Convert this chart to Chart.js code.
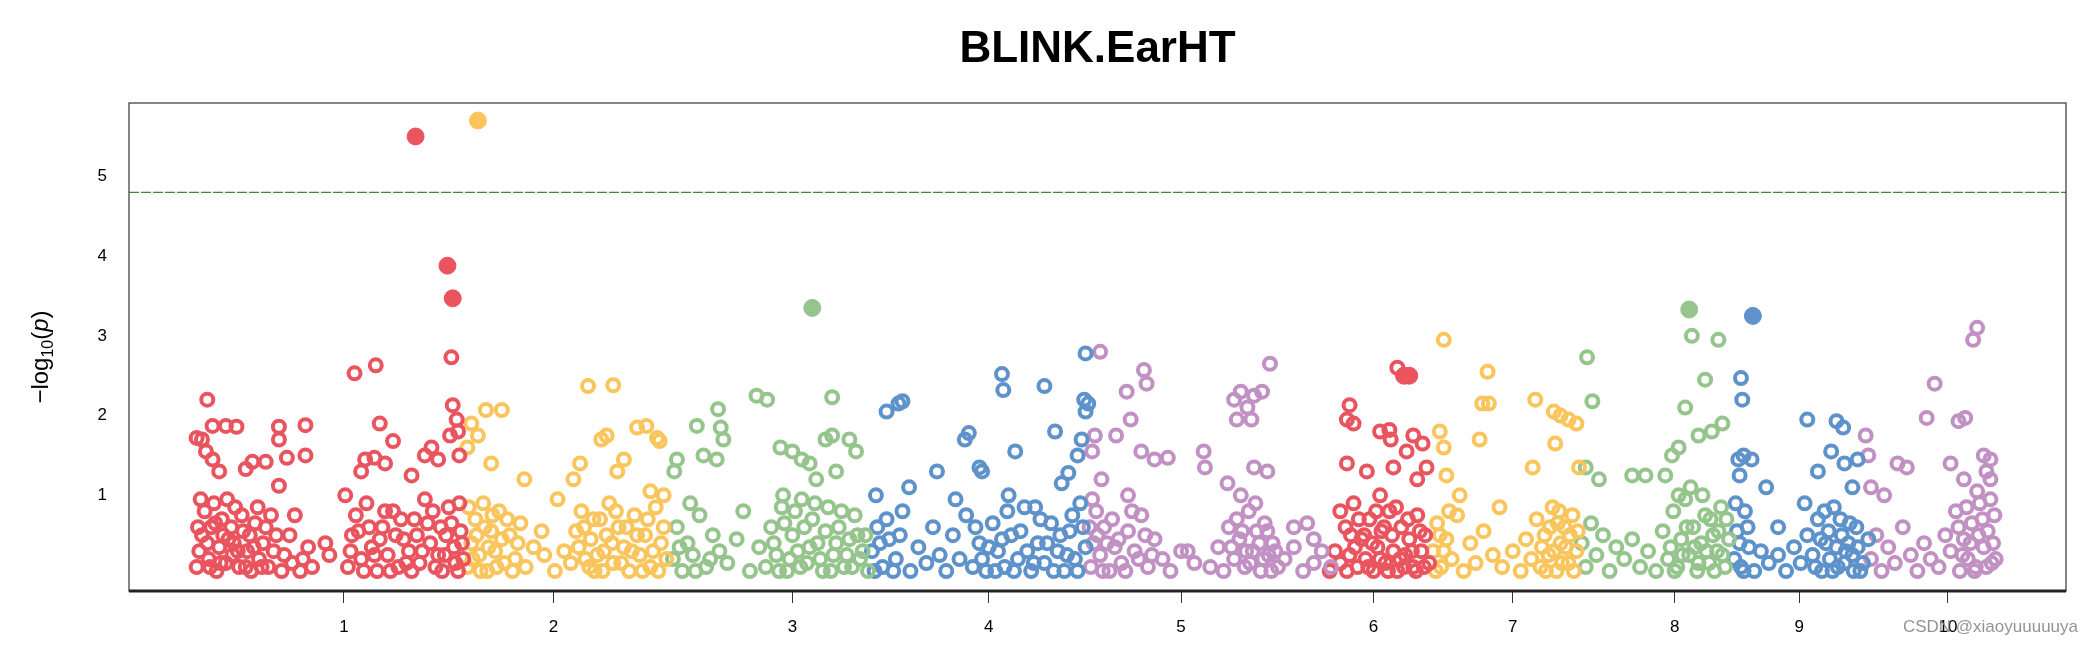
<!DOCTYPE html>
<html><head><meta charset="utf-8">
<script src="https://cdn.jsdelivr.net/npm/chart.js@4/dist/chart.umd.min.js"></script>
<style>html,body{margin:0;padding:0;background:#fff}</style>
</head><body>
<canvas id="c" width="2080" height="647"></canvas>
<script>
const chartTitle = "BLINK.EarHT";
const threshold = 4.8;
const chrLabels = ["1","2","3","4","5","6","7","8","9","10"];
const chrTickPos = [259,417,597,745,890,1035,1140,1262,1356,1468];
const chrColors = ["#E9545E","#F9C55C","#95C58C","#5E92CA","#C291C4","#E9545E","#F9C55C","#95C58C","#5E92CA","#C291C4"];

const chr1 = [[152,1.7],[148,1.72],[160,1.87],[170,1.87],[178,1.86],[210,1.86],[230,1.88],[210,1.7],[216,1.47],[200,1.42],[190,1.42],[155,1.55],[160,1.45],[165,1.3],[185,1.33],[210,1.12],[230,1.5],[260,1.0],[272,1.3],[275,1.45],[282,1.47],[290,1.4],[286,1.9],[296,1.68],[310,1.25],[320,1.5],[325,1.6],[330,1.45],[339,1.75],[344,1.95],[345,1.8],[346,1.5],[267,2.53],[283,2.63],[156,2.2],[341,2.13],[340,2.73],
[148,0.1],[150,0.3],[152,0.5],[154,0.8],[157,0.2],[159,0.6],[161,0.9],[163,0.05],[165,0.35],[167,0.7],[170,0.15],[172,0.45],[175,0.25],[177,0.85],[180,0.1],[183,0.55],[186,0.3],[189,0.05],[192,0.65],[195,0.2],[198,0.4],[202,0.1],[206,0.3],[212,0.05],[218,0.5],[222,0.75],[228,0.2],[235,0.1],[245,0.4],[248,0.25],[262,0.1],[265,0.5],[268,0.75],[272,0.2],[276,0.9],[280,0.35],[284,0.05],[288,0.6],[292,0.25],[296,0.8],[300,0.1],[304,0.45],[308,0.3],[312,0.7],[316,0.15],[320,0.95],[324,0.4],[328,0.1],[332,0.6],[335,0.25],[338,0.85],[342,0.35],[345,0.05],[347,0.55],[349,0.2],
[149,0.6],[151,0.95],[156,0.4],[158,0.1],[162,0.65],[166,0.15],[168,0.5],[171,0.95],[174,0.6],[176,0.4],[179,0.3],[182,0.75],[185,0.1],[188,0.5],[191,0.35],[194,0.85],[197,0.1],[200,0.6],[204,0.75],[208,0.5],[214,0.25],[220,0.15],[226,0.05],[232,0.35],[264,0.3],[270,0.55],[274,0.05],[278,0.6],[282,0.25],[286,0.45],[290,0.8],[294,0.05],[298,0.5],[302,0.7],[306,0.15],[310,0.05],[314,0.5],[318,0.3],[322,0.65],[326,0.8],[330,0.25],[333,0.05],[336,0.5],[340,0.65],[343,0.15],[346,0.9],[348,0.4]];
const chr2 = [[366,2.07],[378,2.07],[443,2.37],[462,2.38],[355,1.9],[360,1.75],[352,1.6],[370,1.4],[395,1.2],[432,1.2],[437,1.4],[453,1.7],[457,1.75],[480,1.85],[487,1.87],[495,1.72],[497,1.68],[470,1.45],[465,1.3],[420,0.95],[408,0.55],[500,1.0],[490,1.05],
[352,0.1],[355,0.4],[358,0.7],[361,0.25],[364,0.9],[367,0.05],[370,0.55],[373,0.3],[376,0.8],[380,0.15],[384,0.5],[388,0.2],[392,0.65],[396,0.1],[402,0.35],[410,0.25],[418,0.05],[425,0.3],[430,0.15],[434,0.55],[438,0.8],[441,0.2],[445,0.45],[448,0.05],[452,0.7],[455,0.3],[459,0.9],[462,0.15],[466,0.6],[470,0.35],[474,0.05],[478,0.75],[482,0.25],[486,0.5],[490,0.1],[494,0.85],[498,0.4],[502,0.2],
[353,0.85],[356,0.2],[359,0.5],[362,0.05],[365,0.6],[368,0.35],[371,0.75],[374,0.1],[378,0.45],[382,0.7],[386,0.05],[390,0.4],[436,0.35],[440,0.6],[444,0.1],[447,0.7],[450,0.25],[454,0.05],[457,0.5],[461,0.4],[464,0.8],[468,0.15],[472,0.6],[476,0.3],[480,0.5],[484,0.05],[488,0.7],[492,0.3],[496,0.05],[500,0.6]];
const chr3 = [[570,2.25],[578,2.2],[627,2.23],[541,2.08],[543,1.85],[525,1.87],[545,1.7],[540,1.45],[530,1.5],[510,1.45],[508,1.3],[588,1.6],[597,1.55],[604,1.45],[610,1.4],[622,1.7],[627,1.75],[640,1.7],[645,1.55],[630,1.3],[615,1.2],[590,1.0],[560,0.8],[520,0.9],
[507,0.2],[510,0.6],[514,0.05],[518,0.4],[522,0.25],[527,0.75],[532,0.1],[537,0.5],[542,0.3],[548,0.15],[555,0.45],[565,0.05],[572,0.35],[577,0.1],[581,0.6],[585,0.25],[589,0.85],[593,0.05],[597,0.5],[601,0.3],[604,0.95],[608,0.15],[612,0.7],[616,0.4],[620,0.05],[624,0.85],[628,0.25],[632,0.6],[636,0.1],[640,0.45],[644,0.75],[648,0.2],[652,0.5],[654,0.05],
[583,0.4],[587,0.05],[591,0.65],[595,0.2],[599,0.8],[603,0.1],[606,0.6],[610,0.35],[614,0.9],[618,0.2],[622,0.55],[626,0.05],[630,0.4],[634,0.8],[638,0.25],[642,0.1],[646,0.5],[650,0.3],[512,0.35],[524,0.05],[535,0.2]];
const chr4 = [[668,2.05],[677,2.15],[680,2.18],[755,2.52],[756,2.32],[787,2.37],[818,2.78],[817,2.2],[820,2.15],[818,2.05],[727,1.7],[730,1.78],[706,1.3],[738,1.35],[740,1.3],[765,1.55],[795,1.8],[805,1.28],[812,1.5],[815,1.7],[660,1.0],[685,1.1],[720,0.95],[760,1.0],[780,0.85],[800,1.15],
[657,0.3],[661,0.6],[665,0.1],[670,0.45],[675,0.2],[680,0.8],[686,0.05],[692,0.35],[698,0.15],[703,0.6],[708,0.25],[713,0.05],[718,0.5],[723,0.2],[728,0.75],[733,0.1],[738,0.4],[743,0.05],[748,0.65],[752,0.3],[757,0.1],[762,0.5],[767,0.2],[772,0.85],[777,0.05],[782,0.4],[787,0.15],[792,0.65],[797,0.3],[802,0.05],[806,0.55],[810,0.2],[814,0.9],[818,0.35],
[659,0.05],[663,0.4],[668,0.7],[673,0.05],[678,0.5],[735,0.6],[740,0.2],[745,0.35],[750,0.05],[755,0.45],[759,0.8],[764,0.05],[769,0.55],[774,0.3],[779,0.15],[784,0.7],[789,0.4],[794,0.05],[799,0.5],[804,0.25],[808,0.75],[812,0.05],[816,0.6]];
const chr5 = [[829,2.8],[849,2.3],[862,2.57],[864,2.4],[957,2.65],[935,2.3],[945,2.25],[951,2.3],[930,2.2],[940,2.1],[943,1.95],[932,1.95],[852,1.95],[823,1.55],[825,1.75],[841,1.75],[860,1.55],[870,1.45],[880,1.47],[907,1.55],[908,1.35],[925,1.15],[945,1.35],[955,1.3],[935,1.0],[830,1.2],[850,1.0],[895,0.3],[975,0.6],[985,0.65],[990,0.45],
[822,0.1],[824,0.4],[826,0.8],[829,0.25],[832,0.6],[836,0.05],[840,0.35],[845,0.15],[850,0.55],[855,0.3],[860,0.75],[865,0.1],[870,0.45],[876,0.2],[882,0.05],[890,0.3],[900,0.15],[912,0.1],[918,0.35],[922,0.05],[926,0.6],[930,0.2],[934,0.45],[938,0.1],[941,0.8],[944,0.3],[947,0.55],[950,0.05],[953,0.65],[956,0.25],[959,0.4],[963,0.1],[968,0.2],[975,0.35],[982,0.05],[990,0.15],[996,0.3],[1003,0.1],
[821,0.6],[823,0.95],[827,0.5],[831,0.05],[834,0.4],[838,0.7],[843,0.45],[848,0.05],[853,0.8],[858,0.2],[863,0.5],[868,0.25],[928,0.35],[932,0.7],[936,0.55],[939,0.3],[942,0.15],[946,0.9],[949,0.4],[952,0.2],[955,0.55],[958,0.05],[961,0.3]];
const chr6 = [[1053,2.6],[1017,2.13],[1015,1.95],[1020,1.9],[1040,1.8],[1047,1.82],[1048,1.7],[1065,1.75],[1072,1.65],[1060,1.55],[1015,1.4],[1030,1.3],[1050,1.35],[1068,1.2],[1075,1.35],[1010,0.8],[1040,1.0],
[1002,0.05],[1006,0.3],[1010,0.15],[1014,0.6],[1017,0.25],[1020,0.9],[1023,0.1],[1026,0.45],[1029,0.2],[1032,0.7],[1035,0.05],[1038,0.35],[1041,0.55],[1044,0.15],[1047,0.8],[1050,0.3],[1053,0.05],[1056,0.6],[1059,0.25],[1062,0.45],[1065,0.1],[1068,0.75],[1071,0.3],[1074,0.5],[1077,0.15],
[1015,0.05],[1018,0.5],[1021,0.35],[1024,0.7],[1028,0.5],[1031,0.1],[1034,0.4],[1037,0.8],[1040,0.2],[1043,0.6],[1046,0.05],[1049,0.5],[1052,0.85],[1055,0.2],[1058,0.1],[1061,0.7],[1064,0.3],[1067,0.05],[1070,0.55],[1073,0.1]];
const chr7 = [[1088,2.95],[1121,2.55],[1117,2.15],[1122,2.15],[1157,2.2],[1171,2.05],[1176,2.0],[1182,1.95],[1188,1.9],[1085,1.8],[1088,1.6],[1090,1.25],[1115,1.7],[1155,1.35],[1190,1.35],[1172,1.65],[1100,1.0],[1130,0.85],[1175,0.8],
[1080,0.3],[1083,0.65],[1086,0.1],[1090,0.45],[1094,0.2],[1098,0.75],[1103,0.05],[1108,0.4],[1112,0.15],[1118,0.55],[1125,0.25],[1132,0.1],[1140,0.3],[1146,0.05],[1150,0.45],[1154,0.2],[1158,0.7],[1161,0.1],[1164,0.5],[1167,0.25],[1170,0.85],[1173,0.05],[1176,0.4],[1179,0.6],[1182,0.15],[1185,0.75],[1188,0.3],
[1082,0.05],[1085,0.5],[1088,0.3],[1092,0.8],[1162,0.35],[1165,0.05],[1168,0.6],[1171,0.3],[1174,0.65],[1177,0.15],[1180,0.35],[1183,0.5],[1186,0.05],[1189,0.55]];
const chr8 = [[1196,2.73],[1275,3.0],[1295,2.95],[1200,2.18],[1270,2.1],[1285,2.45],[1298,1.9],[1290,1.8],[1280,1.75],[1265,1.6],[1260,1.5],[1230,1.25],[1240,1.25],[1205,1.2],[1195,1.35],[1255,1.25],
[1192,0.4],[1195,0.1],[1199,0.65],[1203,0.25],[1208,0.5],[1213,0.05],[1218,0.35],[1224,0.2],[1230,0.45],[1236,0.1],[1242,0.3],[1248,0.05],[1253,0.55],[1257,0.2],[1261,0.8],[1264,0.1],[1267,0.45],[1270,0.95],[1273,0.25],[1276,0.6],[1279,0.05],[1282,0.4],[1285,0.75],[1288,0.15],[1291,0.5],[1294,0.3],[1297,0.85],[1300,0.1],[1303,0.45],
[1259,0.35],[1262,0.05],[1265,1.0],[1268,0.25],[1271,0.6],[1274,1.1],[1277,0.35],[1280,0.15],[1283,1.0],[1286,0.3],[1289,0.7],[1292,0.05],[1295,0.55],[1298,0.25],[1301,0.7]];
const chr9 = [[1312,2.47],[1313,2.2],[1314,1.5],[1310,1.45],[1320,1.45],[1331,1.1],[1311,1.25],[1362,1.95],[1384,1.93],[1389,1.85],[1380,1.55],[1390,1.4],[1400,1.45],[1370,1.3],[1396,1.1],[1360,0.9],[1340,0.6],
[1307,0.2],[1309,0.55],[1312,0.1],[1315,0.8],[1318,0.35],[1322,0.05],[1327,0.3],[1333,0.15],[1340,0.25],[1346,0.05],[1352,0.35],[1357,0.15],[1362,0.5],[1366,0.25],[1370,0.7],[1373,0.05],[1376,0.4],[1379,0.2],[1382,0.85],[1385,0.1],[1388,0.5],[1391,0.3],[1394,0.65],[1397,0.05],[1400,0.35],[1404,0.15],[1408,0.45],
[1308,0.9],[1311,0.4],[1314,0.05],[1317,0.6],[1368,0.1],[1372,0.45],[1375,0.8],[1378,0.55],[1381,0.05],[1384,0.35],[1387,0.7],[1390,0.15],[1393,0.4],[1396,0.25],[1399,0.6],[1402,0.05]];
const chr10 = [[1490,3.1],[1487,2.95],[1458,2.4],[1452,1.97],[1476,1.93],[1481,1.97],[1406,1.75],[1408,1.5],[1430,1.4],[1437,1.35],[1470,1.4],[1495,1.5],[1500,1.45],[1497,1.3],[1500,1.2],[1410,1.1],[1420,1.0],[1480,1.2],[1490,1.05],
[1410,0.2],[1414,0.5],[1418,0.05],[1423,0.35],[1428,0.15],[1434,0.6],[1440,0.25],[1445,0.05],[1450,0.4],[1455,0.2],[1461,0.1],[1466,0.5],[1470,0.3],[1474,0.8],[1477,0.05],[1480,0.45],[1483,0.2],[1486,0.65],[1489,0.1],[1492,0.9],[1495,0.35],[1498,0.55],[1501,0.15],[1503,0.75],
[1476,0.6],[1479,0.25],[1482,0.85],[1485,0.4],[1488,0.05],[1491,0.5],[1494,0.7],[1497,0.1],[1500,0.95],[1502,0.4],[1504,0.2]];
// highlighted (filled) markers: [chromosome index, position, value]
const sigPoints = [[0,313,5.5],[0,337,3.88],[0,341,3.47],[1,360,5.7],[2,612,3.35],[5,1058,2.5],[5,1062,2.5],[7,1273,3.33],[8,1321,3.25]];

const allChr = [chr1,chr2,chr3,chr4,chr5,chr6,chr7,chr8,chr9,chr10];
const datasets = allChr.map((arr,i)=>({
  data: arr.map(p=>({x:p[0],y:p[1]})),
  borderColor: chrColors[i], backgroundColor:'rgba(0,0,0,0)',
  pointRadius:6, borderWidth:4, pointBorderWidth:4
}));
datasets.push({
  data: sigPoints.map(p=>({x:p[1],y:p[2]})),
  borderColor: sigPoints.map(p=>chrColors[p[0]]),
  backgroundColor: sigPoints.map(p=>chrColors[p[0]]),
  pointRadius:8.5, pointBorderWidth:1
});

const deco = {
  id:'deco',
  beforeDatasetsDraw(ch){
    const {ctx,chartArea:a,scales:{y}} = ch;
    const yy = y.getPixelForValue(threshold);
    ctx.save(); ctx.strokeStyle='#3a8a3a'; ctx.lineWidth=1.3; ctx.setLineDash([10,2]);
    ctx.beginPath(); ctx.moveTo(a.left,yy); ctx.lineTo(a.right,yy); ctx.stroke(); ctx.restore();
  },
  afterDraw(ch){
    const {ctx,chartArea:a} = ch;
    ctx.save();
    ctx.strokeStyle='#444'; ctx.lineWidth=1.3;
    ctx.strokeRect(a.left,a.top,a.right-a.left,a.bottom-a.top);
    ctx.strokeStyle='#222'; ctx.lineWidth=3;
    ctx.beginPath(); ctx.moveTo(a.left,a.bottom); ctx.lineTo(a.right,a.bottom); ctx.stroke();
    ctx.fillStyle='#000'; ctx.textAlign='center'; ctx.textBaseline='middle';
    ctx.font='bold 44px Arial, "Liberation Sans"';
    ctx.fillText(chartTitle,(a.left+a.right)/2,50);
    ctx.translate(40,(a.top+a.bottom)/2+10); ctx.rotate(-Math.PI/2);
    ctx.textAlign='left'; ctx.textBaseline='alphabetic';
    let parts=[['\u2212log','24px',0],['10','16px',5],['(','24px',0],['p','italic 24px',0],[')','24px',0]];
    let tot=0; parts.forEach(p=>{ctx.font=p[1]+' Arial';tot+=ctx.measureText(p[0]).width;});
    let x=-tot/2;
    parts.forEach(p=>{ctx.font=p[1]+' Arial';ctx.fillText(p[0],x,8+p[2]);x+=ctx.measureText(p[0]).width;});
    ctx.restore();
    ctx.save(); ctx.fillStyle='rgba(120,120,120,0.8)'; ctx.font='17px Arial'; ctx.textAlign='right'; ctx.textBaseline='middle';
    ctx.fillText('CSDN @xiaoyuuuuuya',2078,627); ctx.restore();
  }
};

new Chart(document.getElementById('c'),{
  type:'scatter',
  data:{datasets},
  options:{
    responsive:false, animation:false, devicePixelRatio:1,
    layout:{padding:{top:103,right:14,left:0,bottom:0}},
    plugins:{legend:{display:false},tooltip:{enabled:false}},
    scales:{
      x:{type:'linear',min:97,max:1557,
        afterBuildTicks:s=>{s.ticks=chrTickPos.map(v=>({value:v}));},
        afterFit:s=>{s.height=56;},
        grid:{drawOnChartArea:false,drawTicks:true,tickLength:12,color:'#333',lineWidth:1},
        border:{display:false},
        ticks:{color:'#000',font:{size:17,family:'Arial'},padding:14,maxRotation:0,autoSkip:false,
          callback:(v)=>chrLabels[chrTickPos.indexOf(v)] ?? ''}
      },
      y:{min:-0.2,max:5.92,
        afterBuildTicks:s=>{s.ticks=[1,2,3,4,5].map(v=>({value:v}));},
        afterFit:s=>{s.width=129;},
        grid:{display:false,drawTicks:false}, border:{display:false},
        ticks:{color:'#000',font:{size:17,family:'Arial'},padding:22}
      }
    }
  },
  plugins:[deco]
});
</script>
</body></html>
